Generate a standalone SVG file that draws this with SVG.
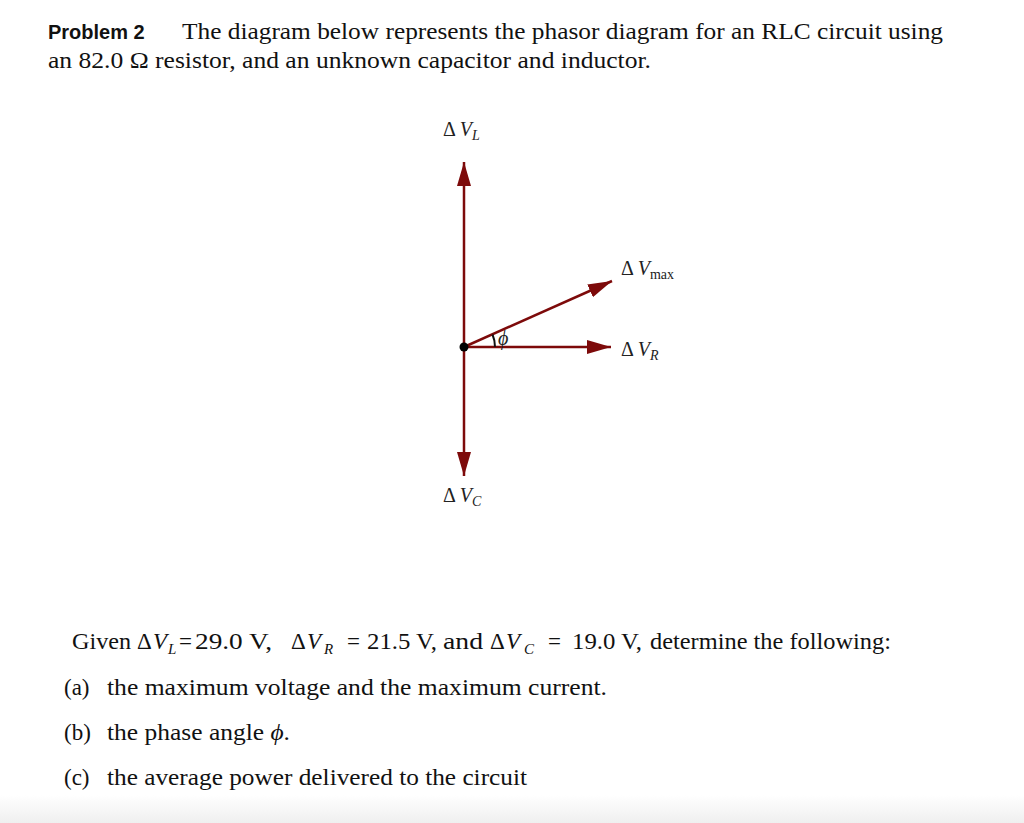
<svg xmlns="http://www.w3.org/2000/svg" width="1024" height="823" viewBox="0 0 1024 823">
<defs>
<linearGradient id="bot" x1="0" y1="0" x2="0" y2="1">
<stop offset="0" stop-color="#ffffff"/>
<stop offset="1" stop-color="#efefef"/>
</linearGradient>
<marker id="ah" viewBox="0 0 24 14" refX="24" refY="7" markerWidth="24" markerHeight="14" markerUnits="userSpaceOnUse" orient="auto">
<path d="M0,0 L24,7 L0,14 Z" fill="#7d0a0a"/>
</marker>
</defs>
<style>
.serif{font-family:"Liberation Serif","DejaVu Serif",serif;font-size:23px;fill:#111}
.it{font-style:italic}
.sub{font-size:15px}
.lbl{font-family:"Liberation Serif","DejaVu Serif",serif;font-size:20px;fill:#222}
.lsub{font-size:14px}
.vec{stroke:#7d0a0a;stroke-width:2.5;fill:none}
</style>
<rect width="1024" height="823" fill="#ffffff"/>
<rect x="0" y="795" width="1024" height="28" fill="url(#bot)"/>

<g id="header">
<text x="48" y="39" font-family="Liberation Sans, Arial, sans-serif" font-weight="bold" font-size="20" fill="#111">Problem 2</text>
<text class="serif" x="182" y="39" textLength="761" lengthAdjust="spacingAndGlyphs">The diagram below represents the phasor diagram for an RLC circuit using</text>
<text class="serif" x="48" y="68" textLength="603" lengthAdjust="spacingAndGlyphs">an 82.0 Ω resistor, and an unknown capacitor and inductor.</text>
</g>

<g id="connectors">
<line class="vec" x1="464" y1="347" x2="464" y2="162" marker-end="url(#ah)"/>
<line class="vec" x1="464" y1="347" x2="464" y2="476" marker-end="url(#ah)"/>
<line class="vec" x1="464" y1="347" x2="611" y2="347" marker-end="url(#ah)"/>
<line class="vec" x1="464" y1="347" x2="612" y2="281" marker-end="url(#ah)"/>
<path d="M495,347 A31,31 0 0 0 492.5,334.5" stroke="#111" stroke-width="2" fill="none"/>
</g>

<g id="origin"><circle cx="464" cy="347" r="4.5" fill="#000"/></g>

<g id="label-phi"><text class="lbl it" x="498" y="345" font-size="18">ϕ</text></g>
<g id="node-VL"><text class="lbl" x="443" y="136">Δ <tspan class="it">V</tspan><tspan class="it lsub" dy="4">L</tspan></text></g>
<g id="node-Vmax"><text class="lbl" x="621" y="275">Δ <tspan class="it">V</tspan><tspan class="lsub" dy="4">max</tspan></text></g>
<g id="node-VR"><text class="lbl" x="621" y="356">Δ <tspan class="it">V</tspan><tspan class="it lsub" dy="4">R</tspan></text></g>
<g id="node-VC"><text class="lbl" x="443" y="502">Δ <tspan class="it">V</tspan><tspan class="it lsub" dy="4">C</tspan></text></g>

<g id="questions">
<text class="serif" x="72" y="649" textLength="59" lengthAdjust="spacingAndGlyphs">Given</text>
<text class="serif" y="649"><tspan x="137">Δ</tspan><tspan class="it" x="153">V</tspan><tspan class="it sub" x="168" dy="5">L</tspan></text>
<text class="serif" x="179" y="649">=</text>
<text class="serif" x="195" y="649" textLength="77" lengthAdjust="spacingAndGlyphs">29.0 V,</text>
<text class="serif" y="649"><tspan x="291">Δ</tspan><tspan class="it" x="307">V</tspan><tspan class="it sub" x="324" dy="5">R</tspan></text>
<text class="serif" x="347" y="649">=</text>
<text class="serif" x="367" y="649" textLength="70" lengthAdjust="spacingAndGlyphs">21.5 V,</text>
<text class="serif" x="443" y="649" textLength="40" lengthAdjust="spacingAndGlyphs">and</text>
<text class="serif" y="649"><tspan x="490">Δ</tspan><tspan class="it" x="506">V</tspan><tspan class="it sub" x="524" dy="5">C</tspan></text>
<text class="serif" x="548" y="649">=</text>
<text class="serif" x="572" y="649" textLength="70" lengthAdjust="spacingAndGlyphs">19.0 V,</text>
<text class="serif" x="650" y="649" textLength="241" lengthAdjust="spacingAndGlyphs">determine the following:</text>
<text class="serif" x="64" y="695">(a)</text>
<text class="serif" x="107" y="695" textLength="500" lengthAdjust="spacingAndGlyphs">the maximum voltage and the maximum current.</text>
<text class="serif" x="64" y="740">(b)</text>
<text class="serif" x="107" y="740" textLength="183" lengthAdjust="spacingAndGlyphs">the phase angle <tspan class="it">ϕ</tspan>.</text>
<text class="serif" x="64" y="785">(c)</text>
<text class="serif" x="107" y="785" textLength="420" lengthAdjust="spacingAndGlyphs">the average power delivered to the circuit</text>
</g>
</svg>
